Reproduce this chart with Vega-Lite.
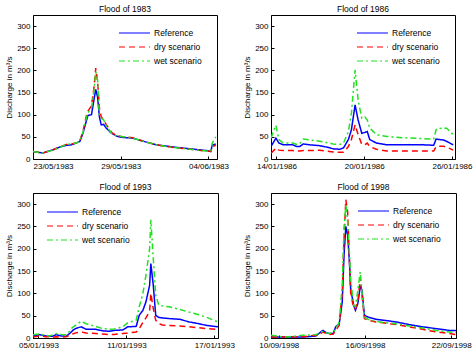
{
  "$schema": "https://vega.github.io/schema/vega-lite/v6.json",
  "padding": {"left": 5, "top": 4, "right": 0, "bottom": 0},
  "background": "white",
  "config": {
    "font": "Liberation Sans",
    "view": {"stroke": "black", "strokeWidth": 1},
    "axis": {"grid": false, "labelFontSize": 8, "titleFontSize": 8, "titleFontWeight": "normal", "domainColor": "black", "tickColor": "black", "labelColor": "black", "titleColor": "black", "tickSize": -3, "labelPadding": 6, "titlePadding": 3},
    "title": {"fontSize": 8.5, "fontWeight": "normal", "offset": 2, "color": "black"},
    "legend": {"symbolType": "M-1,0H5.2", "symbolSize": 100, "symbolStrokeWidth": 1.2, "labelOffset": 24, "rowPadding": 3, "labelFontSize": 8.5, "offset": 12, "padding": 0, "labelColor": "black"}
  },
  "datasets": {
    "f1983": [
      {"t":"1983-05-23T00:00","s":"Reference","q":17},{"t":"1983-05-23T00:00","s":"dry scenario","q":17},{"t":"1983-05-23T00:00","s":"wet scenario","q":17},
      {"t":"1983-05-23T16:00","s":"Reference","q":13.5},{"t":"1983-05-23T16:00","s":"dry scenario","q":13.5},{"t":"1983-05-23T16:00","s":"wet scenario","q":13.5},
      {"t":"1983-05-24T09:00","s":"Reference","q":21},{"t":"1983-05-24T09:00","s":"dry scenario","q":21},{"t":"1983-05-24T09:00","s":"wet scenario","q":20},
      {"t":"1983-05-24T20:00","s":"Reference","q":27},{"t":"1983-05-24T20:00","s":"dry scenario","q":27},{"t":"1983-05-24T20:00","s":"wet scenario","q":26},
      {"t":"1983-05-25T07:00","s":"Reference","q":31},{"t":"1983-05-25T07:00","s":"dry scenario","q":33},{"t":"1983-05-25T07:00","s":"wet scenario","q":33},
      {"t":"1983-05-25T15:00","s":"Reference","q":32},{"t":"1983-05-25T15:00","s":"dry scenario","q":34},{"t":"1983-05-25T15:00","s":"wet scenario","q":34},
      {"t":"1983-05-25T23:00","s":"Reference","q":36},{"t":"1983-05-25T23:00","s":"dry scenario","q":36},{"t":"1983-05-25T23:00","s":"wet scenario","q":36},
      {"t":"1983-05-26T05:00","s":"Reference","q":40},{"t":"1983-05-26T05:00","s":"dry scenario","q":42},{"t":"1983-05-26T05:00","s":"wet scenario","q":41},
      {"t":"1983-05-26T10:00","s":"Reference","q":58},{"t":"1983-05-26T10:00","s":"dry scenario","q":62},{"t":"1983-05-26T10:00","s":"wet scenario","q":60},
      {"t":"1983-05-26T16:00","s":"Reference","q":88},{"t":"1983-05-26T16:00","s":"dry scenario","q":100},{"t":"1983-05-26T16:00","s":"wet scenario","q":95},
      {"t":"1983-05-26T18:00","s":"Reference","q":98},{"t":"1983-05-26T18:00","s":"dry scenario","q":108},{"t":"1983-05-26T18:00","s":"wet scenario","q":104},
      {"t":"1983-05-27T00:00","s":"Reference","q":100},{"t":"1983-05-27T00:00","s":"dry scenario","q":120},{"t":"1983-05-27T00:00","s":"wet scenario","q":115},
      {"t":"1983-05-27T04:00","s":"Reference","q":133},{"t":"1983-05-27T04:00","s":"dry scenario","q":160},{"t":"1983-05-27T04:00","s":"wet scenario","q":155},
      {"t":"1983-05-27T07:00","s":"Reference","q":157},{"t":"1983-05-27T07:00","s":"dry scenario","q":205},{"t":"1983-05-27T07:00","s":"wet scenario","q":197},
      {"t":"1983-05-27T10:00","s":"Reference","q":140},{"t":"1983-05-27T10:00","s":"dry scenario","q":175},{"t":"1983-05-27T10:00","s":"wet scenario","q":178},
      {"t":"1983-05-27T13:00","s":"Reference","q":95},{"t":"1983-05-27T13:00","s":"dry scenario","q":115},{"t":"1983-05-27T13:00","s":"wet scenario","q":95},
      {"t":"1983-05-27T16:00","s":"Reference","q":77},{"t":"1983-05-27T16:00","s":"dry scenario","q":95},{"t":"1983-05-27T16:00","s":"wet scenario","q":92},
      {"t":"1983-05-27T20:00","s":"Reference","q":78},{"t":"1983-05-27T20:00","s":"dry scenario","q":88},{"t":"1983-05-27T20:00","s":"wet scenario","q":88},
      {"t":"1983-05-28T00:00","s":"Reference","q":70},{"t":"1983-05-28T00:00","s":"dry scenario","q":78},{"t":"1983-05-28T00:00","s":"wet scenario","q":75},
      {"t":"1983-05-28T09:00","s":"Reference","q":58},{"t":"1983-05-28T09:00","s":"dry scenario","q":60},{"t":"1983-05-28T09:00","s":"wet scenario","q":58},
      {"t":"1983-05-28T17:00","s":"Reference","q":52},{"t":"1983-05-28T17:00","s":"dry scenario","q":53},{"t":"1983-05-28T17:00","s":"wet scenario","q":52},
      {"t":"1983-05-29T01:00","s":"Reference","q":49},{"t":"1983-05-29T01:00","s":"dry scenario","q":51},{"t":"1983-05-29T01:00","s":"wet scenario","q":51},
      {"t":"1983-05-29T20:00","s":"Reference","q":47},{"t":"1983-05-29T20:00","s":"dry scenario","q":48},{"t":"1983-05-29T20:00","s":"wet scenario","q":47},
      {"t":"1983-05-30T13:00","s":"Reference","q":40},{"t":"1983-05-30T13:00","s":"dry scenario","q":40},{"t":"1983-05-30T13:00","s":"wet scenario","q":40},
      {"t":"1983-05-31T11:00","s":"Reference","q":32},{"t":"1983-05-31T11:00","s":"dry scenario","q":32},{"t":"1983-05-31T11:00","s":"wet scenario","q":32},
      {"t":"1983-06-01T14:00","s":"Reference","q":27},{"t":"1983-06-01T14:00","s":"dry scenario","q":26},{"t":"1983-06-01T14:00","s":"wet scenario","q":26},
      {"t":"1983-06-02T18:00","s":"Reference","q":23},{"t":"1983-06-02T18:00","s":"dry scenario","q":22},{"t":"1983-06-02T18:00","s":"wet scenario","q":22},
      {"t":"1983-06-03T21:00","s":"Reference","q":19},{"t":"1983-06-03T21:00","s":"dry scenario","q":18},{"t":"1983-06-03T21:00","s":"wet scenario","q":18},
      {"t":"1983-06-04T04:00","s":"Reference","q":17},{"t":"1983-06-04T04:00","s":"dry scenario","q":17},{"t":"1983-06-04T04:00","s":"wet scenario","q":17},
      {"t":"1983-06-04T06:00","s":"Reference","q":31},{"t":"1983-06-04T06:00","s":"dry scenario","q":28},{"t":"1983-06-04T06:00","s":"wet scenario","q":35},
      {"t":"1983-06-04T12:00","s":"Reference","q":34},{"t":"1983-06-04T12:00","s":"dry scenario","q":31},{"t":"1983-06-04T12:00","s":"wet scenario","q":50}
    ],
    "f1986": [
      {"t":"1986-01-13T15:00","s":"Reference","q":28},{"t":"1986-01-13T15:00","s":"dry scenario","q":13},{"t":"1986-01-13T15:00","s":"wet scenario","q":47},
      {"t":"1986-01-13T20:00","s":"Reference","q":40},{"t":"1986-01-13T20:00","s":"dry scenario","q":20},{"t":"1986-01-13T20:00","s":"wet scenario","q":66},
      {"t":"1986-01-13T23:00","s":"Reference","q":47},{"t":"1986-01-13T23:00","s":"dry scenario","q":25},{"t":"1986-01-13T23:00","s":"wet scenario","q":76},
      {"t":"1986-01-14T04:00","s":"Reference","q":36},{"t":"1986-01-14T04:00","s":"dry scenario","q":20},{"t":"1986-01-14T04:00","s":"wet scenario","q":44},
      {"t":"1986-01-14T11:00","s":"Reference","q":32},{"t":"1986-01-14T11:00","s":"dry scenario","q":19},{"t":"1986-01-14T11:00","s":"wet scenario","q":36},
      {"t":"1986-01-15T03:00","s":"Reference","q":32},{"t":"1986-01-15T03:00","s":"dry scenario","q":19},{"t":"1986-01-15T03:00","s":"wet scenario","q":36},
      {"t":"1986-01-15T09:00","s":"Reference","q":28},{"t":"1986-01-15T09:00","s":"dry scenario","q":18},{"t":"1986-01-15T09:00","s":"wet scenario","q":33},
      {"t":"1986-01-15T14:00","s":"Reference","q":28},{"t":"1986-01-15T14:00","s":"dry scenario","q":18},{"t":"1986-01-15T14:00","s":"wet scenario","q":34},
      {"t":"1986-01-15T20:00","s":"Reference","q":34},{"t":"1986-01-15T20:00","s":"dry scenario","q":19},{"t":"1986-01-15T20:00","s":"wet scenario","q":45},
      {"t":"1986-01-16T07:00","s":"Reference","q":32},{"t":"1986-01-16T07:00","s":"dry scenario","q":19},{"t":"1986-01-16T07:00","s":"wet scenario","q":43},
      {"t":"1986-01-16T23:00","s":"Reference","q":30},{"t":"1986-01-16T23:00","s":"dry scenario","q":20},{"t":"1986-01-16T23:00","s":"wet scenario","q":40},
      {"t":"1986-01-17T10:00","s":"Reference","q":27},{"t":"1986-01-17T10:00","s":"dry scenario","q":18},{"t":"1986-01-17T10:00","s":"wet scenario","q":37},
      {"t":"1986-01-17T21:00","s":"Reference","q":23},{"t":"1986-01-17T21:00","s":"dry scenario","q":16},{"t":"1986-01-17T21:00","s":"wet scenario","q":34},
      {"t":"1986-01-18T08:00","s":"Reference","q":22},{"t":"1986-01-18T08:00","s":"dry scenario","q":15},{"t":"1986-01-18T08:00","s":"wet scenario","q":33},
      {"t":"1986-01-18T14:00","s":"Reference","q":25},{"t":"1986-01-18T14:00","s":"dry scenario","q":15},{"t":"1986-01-18T14:00","s":"wet scenario","q":36},
      {"t":"1986-01-18T22:00","s":"Reference","q":44},{"t":"1986-01-18T22:00","s":"dry scenario","q":28},{"t":"1986-01-18T22:00","s":"wet scenario","q":62},
      {"t":"1986-01-19T03:00","s":"Reference","q":66},{"t":"1986-01-19T03:00","s":"dry scenario","q":44},{"t":"1986-01-19T03:00","s":"wet scenario","q":103},
      {"t":"1986-01-19T09:00","s":"Reference","q":122},{"t":"1986-01-19T09:00","s":"dry scenario","q":77},{"t":"1986-01-19T09:00","s":"wet scenario","q":201},
      {"t":"1986-01-19T14:00","s":"Reference","q":88},{"t":"1986-01-19T14:00","s":"dry scenario","q":55},{"t":"1986-01-19T14:00","s":"wet scenario","q":133},
      {"t":"1986-01-19T20:00","s":"Reference","q":58},{"t":"1986-01-19T20:00","s":"dry scenario","q":33},{"t":"1986-01-19T20:00","s":"wet scenario","q":92},
      {"t":"1986-01-20T01:00","s":"Reference","q":60},{"t":"1986-01-20T01:00","s":"dry scenario","q":32},{"t":"1986-01-20T01:00","s":"wet scenario","q":95},
      {"t":"1986-01-20T05:00","s":"Reference","q":62},{"t":"1986-01-20T05:00","s":"dry scenario","q":36},{"t":"1986-01-20T05:00","s":"wet scenario","q":88},
      {"t":"1986-01-20T09:00","s":"Reference","q":44},{"t":"1986-01-20T09:00","s":"dry scenario","q":28},{"t":"1986-01-20T09:00","s":"wet scenario","q":70},
      {"t":"1986-01-20T20:00","s":"Reference","q":36},{"t":"1986-01-20T20:00","s":"dry scenario","q":22},{"t":"1986-01-20T20:00","s":"wet scenario","q":55},
      {"t":"1986-01-21T13:00","s":"Reference","q":32},{"t":"1986-01-21T13:00","s":"dry scenario","q":18},{"t":"1986-01-21T13:00","s":"wet scenario","q":51},
      {"t":"1986-01-22T16:00","s":"Reference","q":32},{"t":"1986-01-22T16:00","s":"dry scenario","q":18},{"t":"1986-01-22T16:00","s":"wet scenario","q":48},
      {"t":"1986-01-24T01:00","s":"Reference","q":32},{"t":"1986-01-24T01:00","s":"dry scenario","q":18},{"t":"1986-01-24T01:00","s":"wet scenario","q":46},
      {"t":"1986-01-24T18:00","s":"Reference","q":31},{"t":"1986-01-24T18:00","s":"dry scenario","q":18},{"t":"1986-01-24T18:00","s":"wet scenario","q":45},
      {"t":"1986-01-24T22:00","s":"Reference","q":45},{"t":"1986-01-24T22:00","s":"dry scenario","q":28},{"t":"1986-01-24T22:00","s":"wet scenario","q":66},
      {"t":"1986-01-25T02:00","s":"Reference","q":44},{"t":"1986-01-25T02:00","s":"dry scenario","q":29},{"t":"1986-01-25T02:00","s":"wet scenario","q":70},
      {"t":"1986-01-25T10:00","s":"Reference","q":43},{"t":"1986-01-25T10:00","s":"dry scenario","q":29},{"t":"1986-01-25T10:00","s":"wet scenario","q":68},
      {"t":"1986-01-25T15:00","s":"Reference","q":40},{"t":"1986-01-25T15:00","s":"dry scenario","q":27},{"t":"1986-01-25T15:00","s":"wet scenario","q":70},
      {"t":"1986-01-26T02:00","s":"Reference","q":32},{"t":"1986-01-26T02:00","s":"dry scenario","q":20},{"t":"1986-01-26T02:00","s":"wet scenario","q":55}
    ],
    "f1993": [
      {"t":"1993-01-04T15:00","s":"Reference","q":4.5},{"t":"1993-01-04T15:00","s":"dry scenario","q":2},{"t":"1993-01-04T15:00","s":"wet scenario","q":7.5},
      {"t":"1993-01-05T02:00","s":"Reference","q":7.5},{"t":"1993-01-05T02:00","s":"dry scenario","q":4.5},{"t":"1993-01-05T02:00","s":"wet scenario","q":9},
      {"t":"1993-01-05T12:00","s":"Reference","q":4.5},{"t":"1993-01-05T12:00","s":"dry scenario","q":3},{"t":"1993-01-05T12:00","s":"wet scenario","q":6},
      {"t":"1993-01-05T18:00","s":"Reference","q":4},{"t":"1993-01-05T18:00","s":"dry scenario","q":2.5},{"t":"1993-01-05T18:00","s":"wet scenario","q":4.5},
      {"t":"1993-01-05T23:00","s":"Reference","q":4},{"t":"1993-01-05T23:00","s":"dry scenario","q":2},{"t":"1993-01-05T23:00","s":"wet scenario","q":7},
      {"t":"1993-01-06T05:00","s":"Reference","q":7.5},{"t":"1993-01-06T05:00","s":"dry scenario","q":3},{"t":"1993-01-06T05:00","s":"wet scenario","q":10},
      {"t":"1993-01-06T13:00","s":"Reference","q":4.5},{"t":"1993-01-06T13:00","s":"dry scenario","q":2},{"t":"1993-01-06T13:00","s":"wet scenario","q":8},
      {"t":"1993-01-06T21:00","s":"Reference","q":4},{"t":"1993-01-06T21:00","s":"dry scenario","q":3},{"t":"1993-01-06T21:00","s":"wet scenario","q":7.5},
      {"t":"1993-01-07T03:00","s":"Reference","q":10},{"t":"1993-01-07T03:00","s":"dry scenario","q":6},{"t":"1993-01-07T03:00","s":"wet scenario","q":15},
      {"t":"1993-01-07T06:00","s":"Reference","q":14},{"t":"1993-01-07T06:00","s":"dry scenario","q":7.5},{"t":"1993-01-07T06:00","s":"wet scenario","q":21},
      {"t":"1993-01-07T08:00","s":"Reference","q":17},{"t":"1993-01-07T08:00","s":"dry scenario","q":9},{"t":"1993-01-07T08:00","s":"wet scenario","q":24},
      {"t":"1993-01-07T14:00","s":"Reference","q":22},{"t":"1993-01-07T14:00","s":"dry scenario","q":12},{"t":"1993-01-07T14:00","s":"wet scenario","q":30},
      {"t":"1993-01-07T22:00","s":"Reference","q":25},{"t":"1993-01-07T22:00","s":"dry scenario","q":13.5},{"t":"1993-01-07T22:00","s":"wet scenario","q":37.5},
      {"t":"1993-01-08T06:00","s":"Reference","q":19.5},{"t":"1993-01-08T06:00","s":"dry scenario","q":11},{"t":"1993-01-08T06:00","s":"wet scenario","q":32},
      {"t":"1993-01-08T22:00","s":"Reference","q":19.5},{"t":"1993-01-08T22:00","s":"dry scenario","q":10},{"t":"1993-01-08T22:00","s":"wet scenario","q":26},
      {"t":"1993-01-09T09:00","s":"Reference","q":16},{"t":"1993-01-09T09:00","s":"dry scenario","q":9},{"t":"1993-01-09T09:00","s":"wet scenario","q":21},
      {"t":"1993-01-09T20:00","s":"Reference","q":15},{"t":"1993-01-09T20:00","s":"dry scenario","q":7.5},{"t":"1993-01-09T20:00","s":"wet scenario","q":19.5},
      {"t":"1993-01-10T04:00","s":"Reference","q":17},{"t":"1993-01-10T04:00","s":"dry scenario","q":8},{"t":"1993-01-10T04:00","s":"wet scenario","q":20},
      {"t":"1993-01-10T18:00","s":"Reference","q":18},{"t":"1993-01-10T18:00","s":"dry scenario","q":10},{"t":"1993-01-10T18:00","s":"wet scenario","q":25},
      {"t":"1993-01-11T02:00","s":"Reference","q":25},{"t":"1993-01-11T02:00","s":"dry scenario","q":11},{"t":"1993-01-11T02:00","s":"wet scenario","q":34},
      {"t":"1993-01-11T16:00","s":"Reference","q":26},{"t":"1993-01-11T16:00","s":"dry scenario","q":13.5},{"t":"1993-01-11T16:00","s":"wet scenario","q":40},
      {"t":"1993-01-11T21:00","s":"Reference","q":51},{"t":"1993-01-11T21:00","s":"dry scenario","q":21},{"t":"1993-01-11T21:00","s":"wet scenario","q":70},
      {"t":"1993-01-12T03:00","s":"Reference","q":62},{"t":"1993-01-12T03:00","s":"dry scenario","q":35},{"t":"1993-01-12T03:00","s":"wet scenario","q":100},
      {"t":"1993-01-12T08:00","s":"Reference","q":81},{"t":"1993-01-12T08:00","s":"dry scenario","q":45},{"t":"1993-01-12T08:00","s":"wet scenario","q":141},
      {"t":"1993-01-12T14:00","s":"Reference","q":118},{"t":"1993-01-12T14:00","s":"dry scenario","q":60},{"t":"1993-01-12T14:00","s":"wet scenario","q":200},
      {"t":"1993-01-12T16:00","s":"Reference","q":167},{"t":"1993-01-12T16:00","s":"dry scenario","q":100},{"t":"1993-01-12T16:00","s":"wet scenario","q":265},
      {"t":"1993-01-12T20:00","s":"Reference","q":118},{"t":"1993-01-12T20:00","s":"dry scenario","q":66},{"t":"1993-01-12T20:00","s":"wet scenario","q":178},
      {"t":"1993-01-13T00:00","s":"Reference","q":51},{"t":"1993-01-13T00:00","s":"dry scenario","q":40},{"t":"1993-01-13T00:00","s":"wet scenario","q":96},
      {"t":"1993-01-13T05:00","s":"Reference","q":46},{"t":"1993-01-13T05:00","s":"dry scenario","q":32},{"t":"1993-01-13T05:00","s":"wet scenario","q":73.5},
      {"t":"1993-01-13T11:00","s":"Reference","q":45},{"t":"1993-01-13T11:00","s":"dry scenario","q":29},{"t":"1993-01-13T11:00","s":"wet scenario","q":72},
      {"t":"1993-01-13T22:00","s":"Reference","q":43.5},{"t":"1993-01-13T22:00","s":"dry scenario","q":28},{"t":"1993-01-13T22:00","s":"wet scenario","q":70},
      {"t":"1993-01-14T15:00","s":"Reference","q":42},{"t":"1993-01-14T15:00","s":"dry scenario","q":27},{"t":"1993-01-14T15:00","s":"wet scenario","q":64},
      {"t":"1993-01-15T07:00","s":"Reference","q":36},{"t":"1993-01-15T07:00","s":"dry scenario","q":25},{"t":"1993-01-15T07:00","s":"wet scenario","q":58},
      {"t":"1993-01-15T23:00","s":"Reference","q":32},{"t":"1993-01-15T23:00","s":"dry scenario","q":23},{"t":"1993-01-15T23:00","s":"wet scenario","q":52},
      {"t":"1993-01-16T10:00","s":"Reference","q":28.5},{"t":"1993-01-16T10:00","s":"dry scenario","q":21},{"t":"1993-01-16T10:00","s":"wet scenario","q":47},
      {"t":"1993-01-17T06:00","s":"Reference","q":25},{"t":"1993-01-17T06:00","s":"dry scenario","q":19.5},{"t":"1993-01-17T06:00","s":"wet scenario","q":36}
    ],
    "f1998": [
      {"t":"1998-09-09T11:00","s":"Reference","q":2},{"t":"1998-09-09T11:00","s":"dry scenario","q":2},{"t":"1998-09-09T11:00","s":"wet scenario","q":6},
      {"t":"1998-09-10T12:00","s":"Reference","q":2},{"t":"1998-09-10T12:00","s":"dry scenario","q":2},{"t":"1998-09-10T12:00","s":"wet scenario","q":2},
      {"t":"1998-09-11T16:00","s":"Reference","q":2},{"t":"1998-09-11T16:00","s":"dry scenario","q":3},{"t":"1998-09-11T16:00","s":"wet scenario","q":6},
      {"t":"1998-09-12T14:00","s":"Reference","q":4.5},{"t":"1998-09-12T14:00","s":"dry scenario","q":6},{"t":"1998-09-12T14:00","s":"wet scenario","q":7.5},
      {"t":"1998-09-12T22:00","s":"Reference","q":13.5},{"t":"1998-09-12T22:00","s":"dry scenario","q":10},{"t":"1998-09-12T22:00","s":"wet scenario","q":13},
      {"t":"1998-09-13T02:00","s":"Reference","q":17},{"t":"1998-09-13T02:00","s":"dry scenario","q":13.5},{"t":"1998-09-13T02:00","s":"wet scenario","q":15},
      {"t":"1998-09-13T07:00","s":"Reference","q":12},{"t":"1998-09-13T07:00","s":"dry scenario","q":10},{"t":"1998-09-13T07:00","s":"wet scenario","q":12},
      {"t":"1998-09-13T12:00","s":"Reference","q":10},{"t":"1998-09-13T12:00","s":"dry scenario","q":7.5},{"t":"1998-09-13T12:00","s":"wet scenario","q":10},
      {"t":"1998-09-13T19:00","s":"Reference","q":10},{"t":"1998-09-13T19:00","s":"dry scenario","q":9},{"t":"1998-09-13T19:00","s":"wet scenario","q":12},
      {"t":"1998-09-13T23:00","s":"Reference","q":25},{"t":"1998-09-13T23:00","s":"dry scenario","q":17},{"t":"1998-09-13T23:00","s":"wet scenario","q":19.5},
      {"t":"1998-09-14T05:00","s":"Reference","q":32},{"t":"1998-09-14T05:00","s":"dry scenario","q":28.5},{"t":"1998-09-14T05:00","s":"wet scenario","q":36},
      {"t":"1998-09-14T10:00","s":"Reference","q":81},{"t":"1998-09-14T10:00","s":"dry scenario","q":103},{"t":"1998-09-14T10:00","s":"wet scenario","q":118},
      {"t":"1998-09-14T13:00","s":"Reference","q":186},{"t":"1998-09-14T13:00","s":"dry scenario","q":223},{"t":"1998-09-14T13:00","s":"wet scenario","q":246},
      {"t":"1998-09-14T16:00","s":"Reference","q":250},{"t":"1998-09-14T16:00","s":"dry scenario","q":310},{"t":"1998-09-14T16:00","s":"wet scenario","q":300},
      {"t":"1998-09-14T19:00","s":"Reference","q":231},{"t":"1998-09-14T19:00","s":"dry scenario","q":283},{"t":"1998-09-14T19:00","s":"wet scenario","q":261},
      {"t":"1998-09-14T22:00","s":"Reference","q":171},{"t":"1998-09-14T22:00","s":"dry scenario","q":178},{"t":"1998-09-14T22:00","s":"wet scenario","q":190},
      {"t":"1998-09-15T00:00","s":"Reference","q":111},{"t":"1998-09-15T00:00","s":"dry scenario","q":103},{"t":"1998-09-15T00:00","s":"wet scenario","q":133},
      {"t":"1998-09-15T05:00","s":"Reference","q":73.5},{"t":"1998-09-15T05:00","s":"dry scenario","q":66},{"t":"1998-09-15T05:00","s":"wet scenario","q":73.5},
      {"t":"1998-09-15T08:00","s":"Reference","q":62},{"t":"1998-09-15T08:00","s":"dry scenario","q":66},{"t":"1998-09-15T08:00","s":"wet scenario","q":70},
      {"t":"1998-09-15T12:00","s":"Reference","q":77},{"t":"1998-09-15T12:00","s":"dry scenario","q":81},{"t":"1998-09-15T12:00","s":"wet scenario","q":107},
      {"t":"1998-09-15T16:00","s":"Reference","q":115},{"t":"1998-09-15T16:00","s":"dry scenario","q":135},{"t":"1998-09-15T16:00","s":"wet scenario","q":148},
      {"t":"1998-09-15T19:00","s":"Reference","q":107},{"t":"1998-09-15T19:00","s":"dry scenario","q":96},{"t":"1998-09-15T19:00","s":"wet scenario","q":103},
      {"t":"1998-09-15T23:00","s":"Reference","q":51},{"t":"1998-09-15T23:00","s":"dry scenario","q":43.5},{"t":"1998-09-15T23:00","s":"wet scenario","q":47},
      {"t":"1998-09-16T05:00","s":"Reference","q":47},{"t":"1998-09-16T05:00","s":"dry scenario","q":40},{"t":"1998-09-16T05:00","s":"wet scenario","q":42},
      {"t":"1998-09-16T18:00","s":"Reference","q":42},{"t":"1998-09-16T18:00","s":"dry scenario","q":36},{"t":"1998-09-16T18:00","s":"wet scenario","q":37.5},
      {"t":"1998-09-17T06:00","s":"Reference","q":40},{"t":"1998-09-17T06:00","s":"dry scenario","q":34},{"t":"1998-09-17T06:00","s":"wet scenario","q":35},
      {"t":"1998-09-18T04:00","s":"Reference","q":36},{"t":"1998-09-18T04:00","s":"dry scenario","q":30},{"t":"1998-09-18T04:00","s":"wet scenario","q":32},
      {"t":"1998-09-19T02:00","s":"Reference","q":30},{"t":"1998-09-19T02:00","s":"dry scenario","q":25},{"t":"1998-09-19T02:00","s":"wet scenario","q":27},
      {"t":"1998-09-20T00:00","s":"Reference","q":25},{"t":"1998-09-20T00:00","s":"dry scenario","q":19.5},{"t":"1998-09-20T00:00","s":"wet scenario","q":22.5},
      {"t":"1998-09-20T23:00","s":"Reference","q":21},{"t":"1998-09-20T23:00","s":"dry scenario","q":13.5},{"t":"1998-09-20T23:00","s":"wet scenario","q":17},
      {"t":"1998-09-21T21:00","s":"Reference","q":17},{"t":"1998-09-21T21:00","s":"dry scenario","q":10},{"t":"1998-09-21T21:00","s":"wet scenario","q":13.5},
      {"t":"1998-09-22T08:00","s":"Reference","q":16.5},{"t":"1998-09-22T08:00","s":"dry scenario","q":7.5},{"t":"1998-09-22T08:00","s":"wet scenario","q":12}
    ]
  },
  "columns": 2,
  "spacing": {"row": 11, "column": 8},
  "resolve": {
    "scale": {"color": "independent", "strokeDash": "independent"},
    "legend": {"color": "independent", "strokeDash": "independent"}
  },
  "concat": [
    {
      "title": "Flood of 1983",
      "width": 184, "height": 144,
      "data": {"name": "f1983"},
      "mark": {"type": "line", "strokeWidth": 1.5, "clip": true},
      "encoding": {
        "x": {"field": "t", "type": "temporal",
          "scale": {"domain": [{"year": 1983, "month": 5, "date": 23, "hours": 0}, {"year": 1983, "month": 6, "date": 4, "hours": 14}]},
          "axis": {"values": [{"year": 1983, "month": 5, "date": 23}, {"year": 1983, "month": 5, "date": 29}, {"year": 1983, "month": 6, "date": 4}], "format": "%d/%m/%Y", "title": null}},
        "y": {"field": "q", "type": "quantitative", "scale": {"domain": [0, 325], "nice": false},
          "axis": {"values": [0, 50, 100, 150, 200, 250, 300], "title": "Discharge in m³/s"}},
        "color": {"field": "s", "type": "nominal", "scale": {"domain": ["Reference", "dry scenario", "wet scenario"], "range": ["#0000ff", "#ff0000", "#22e022"]}, "legend": {"title": " ", "titleOrient": "right", "titlePadding": 3, "orient": "top-right"}},
        "strokeDash": {"field": "s", "type": "nominal", "scale": {"domain": ["Reference", "dry scenario", "wet scenario"], "range": [[1, 0], [6, 4], [6, 3, 2, 3]]}, "legend": {"title": " ", "titleOrient": "right", "titlePadding": 3, "orient": "top-right"}}
      }
    },
    {
      "title": "Flood of 1986",
      "width": 184, "height": 144,
      "data": {"name": "f1986"},
      "mark": {"type": "line", "strokeWidth": 1.5, "clip": true},
      "encoding": {
        "x": {"field": "t", "type": "temporal",
          "scale": {"domain": [{"year": 1986, "month": 1, "date": 13, "hours": 15}, {"year": 1986, "month": 1, "date": 26, "hours": 5}]},
          "axis": {"values": [{"year": 1986, "month": 1, "date": 14}, {"year": 1986, "month": 1, "date": 20}, {"year": 1986, "month": 1, "date": 26}], "format": "%d/%m/%Y", "title": null}},
        "y": {"field": "q", "type": "quantitative", "scale": {"domain": [0, 325], "nice": false},
          "axis": {"values": [0, 50, 100, 150, 200, 250, 300], "title": "Discharge in m³/s"}},
        "color": {"field": "s", "type": "nominal", "scale": {"domain": ["Reference", "dry scenario", "wet scenario"], "range": ["#0000ff", "#ff0000", "#22e022"]}, "legend": {"title": " ", "titleOrient": "right", "titlePadding": 3, "orient": "top-right"}},
        "strokeDash": {"field": "s", "type": "nominal", "scale": {"domain": ["Reference", "dry scenario", "wet scenario"], "range": [[1, 0], [6, 4], [6, 3, 2, 3]]}, "legend": {"title": " ", "titleOrient": "right", "titlePadding": 3, "orient": "top-right"}}
      }
    },
    {
      "title": "Flood of 1993",
      "width": 185, "height": 145,
      "data": {"name": "f1993"},
      "mark": {"type": "line", "strokeWidth": 1.5, "clip": true},
      "encoding": {
        "x": {"field": "t", "type": "temporal",
          "scale": {"domain": [{"year": 1993, "month": 1, "date": 4, "hours": 15}, {"year": 1993, "month": 1, "date": 17, "hours": 6}]},
          "axis": {"values": [{"year": 1993, "month": 1, "date": 5}, {"year": 1993, "month": 1, "date": 11}, {"year": 1993, "month": 1, "date": 17}], "format": "%d/%m/%Y", "title": null}},
        "y": {"field": "q", "type": "quantitative", "scale": {"domain": [0, 325], "nice": false},
          "axis": {"values": [0, 50, 100, 150, 200, 250, 300], "title": "Discharge in m³/s"}},
        "color": {"field": "s", "type": "nominal", "scale": {"domain": ["Reference", "dry scenario", "wet scenario"], "range": ["#0000ff", "#ff0000", "#22e022"]}, "legend": {"title": null, "orient": "top-left", "offset": 13}},
        "strokeDash": {"field": "s", "type": "nominal", "scale": {"domain": ["Reference", "dry scenario", "wet scenario"], "range": [[1, 0], [6, 4], [6, 3, 2, 3]]}, "legend": {"title": null, "orient": "top-left", "offset": 13}}
      }
    },
    {
      "title": "Flood of 1998",
      "width": 185, "height": 145,
      "data": {"name": "f1998"},
      "mark": {"type": "line", "strokeWidth": 1.5, "clip": true},
      "encoding": {
        "x": {"field": "t", "type": "temporal",
          "scale": {"domain": [{"year": 1998, "month": 9, "date": 9, "hours": 11}, {"year": 1998, "month": 9, "date": 22, "hours": 8}]},
          "axis": {"values": [{"year": 1998, "month": 9, "date": 10}, {"year": 1998, "month": 9, "date": 16}, {"year": 1998, "month": 9, "date": 22}], "format": "%d/%m/%Y", "title": null}},
        "y": {"field": "q", "type": "quantitative", "scale": {"domain": [0, 325], "nice": false},
          "axis": {"values": [0, 50, 100, 150, 200, 250, 300], "title": "Discharge in m³/s"}},
        "color": {"field": "s", "type": "nominal", "scale": {"domain": ["Reference", "dry scenario", "wet scenario"], "range": ["#0000ff", "#ff0000", "#22e022"]}, "legend": {"title": " ", "titleOrient": "right", "titlePadding": 3, "orient": "top-right"}},
        "strokeDash": {"field": "s", "type": "nominal", "scale": {"domain": ["Reference", "dry scenario", "wet scenario"], "range": [[1, 0], [6, 4], [6, 3, 2, 3]]}, "legend": {"title": " ", "titleOrient": "right", "titlePadding": 3, "orient": "top-right"}}
      }
    }
  ]
}
